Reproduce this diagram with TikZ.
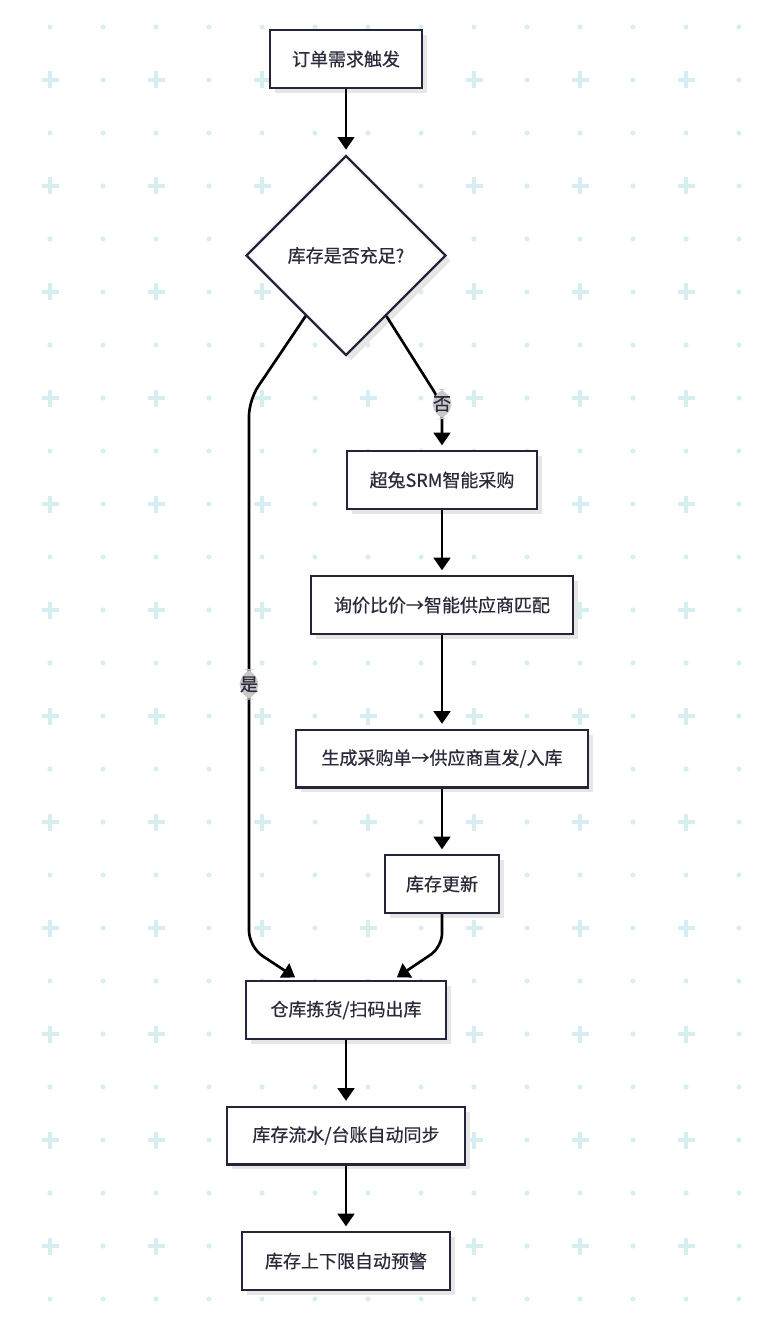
\documentclass[tikz,border=0pt]{standalone}
\usepackage{fontspec}
\setmainfont{Noto Sans CJK SC}[FakeBold=0.5]
\usetikzlibrary{calc,shapes.geometric,arrows.meta,shadows}
\definecolor{nodeline}{HTML}{24243A}
\definecolor{nodetext}{HTML}{2A2A3A}
\definecolor{bgmark}{HTML}{D6EDF2}
\definecolor{labelbg}{HTML}{C8C8C8}
\definecolor{shadowgray}{HTML}{E6E6E6}

\begin{document}
\begin{tikzpicture}[x=0.75pt,y=-0.75pt,font=\fontsize{13.5pt}{16pt}\selectfont]
    \tikzstyle{box}=[rectangle,draw=nodeline,line width=1.7pt,fill=white,text=nodetext,minimum height=43.3pt,inner sep=2pt,drop shadow={shadow xshift=3.75pt,shadow yshift=-3.75pt,fill=shadowgray,opacity=1}]
    \tikzstyle{decision}=[diamond,aspect=1,draw=nodeline,line width=1.7pt,fill=white,text=nodetext,minimum width=150pt,minimum height=150pt,inner sep=0pt,drop shadow={shadow xshift=3.75pt,shadow yshift=-3.75pt,fill=shadowgray,opacity=1}]
    \tikzstyle{flow}=[draw=black,line width=2pt,-{Triangle[length=9.5pt,width=12.5pt]},shorten >=3.5pt]
    \tikzstyle{branch label}=[fill=labelbg,text=nodetext,inner xsep=0.2pt,inner ysep=5.5pt]
    \tikzstyle{bgdot}=[fill=bgmark]
    \tikzstyle{bgplus}=[draw=bgmark,line width=3pt]

    \useasboundingbox (0,0) rectangle (760,1344);
    \fill[white] (0,0) rectangle (760,1344);
    % background grid
    \foreach \i in {-1,...,14}{
        \foreach \j in {0,...,25}{
            \pgfmathtruncatemacro\isplus{(1-mod(\i+2,2))*mod(\j,2)}
            \ifnum\isplus=1
                \draw[bgplus] ({50+53*\i},{27+53*\j}) +(-8.5,0) -- +(8.5,0) +(0,-8.5) -- +(0,8.5);
            \else
                \fill[bgdot] ({50+53*\i},{27+53*\j}) circle[radius=1.9pt];
            \fi
        }
    }

    \node(0)[box,minimum width=113.8pt] at (346,59) {订单需求触发};
    \node(1)[decision] at (346,255.5) {库存是否充足?};
    \node(2)[box,minimum width=142.3pt] at (442,480) {超兔SRM智能采购};
    \node(3)[box,minimum width=197pt] at (442,605) {询价比价→智能供应商匹配};
    \node(4)[box,minimum width=219.5pt] at (442,758.5) {生成采购单→供应商直发/入库};
    \node(5)[box,minimum width=86pt] at (442,884) {库存更新};
    \node(6)[box,minimum width=149.8pt] at (346,1010) {仓库拣货/扫码出库};
    \node(7)[box,minimum width=178.3pt] at (346,1135.5) {库存流水/台账自动同步};
    \node(8)[box,minimum width=155.8pt] at (346,1261) {库存上下限自动预警};

    \draw[flow] (0) -- (1);
    \draw[flow,rounded corners=12pt] ($(1.east)!0.6!(1.south)$) -- ($(2.north)+(0,-46)$) node[branch label]{否} -- (2);
    \draw[flow,rounded corners=12pt] ($(1.west)!0.6!(1.south)$) -- (249,400) -- node[branch label,pos=0.52]{是} (249,947) -- ($(6.north)+(-47,0)$);
    \draw[flow] (2) -- (3);
    \draw[flow] (3) -- (4);
    \draw[flow] (4) -- (5);
    \draw[flow,rounded corners=10pt] (5) -- ($(5.south)+(0,33)$) -- ($(6.north)+(47,0)$);
    \draw[flow] (6) -- (7);
    \draw[flow] (7) -- (8);
\end{tikzpicture}
\end{document}
